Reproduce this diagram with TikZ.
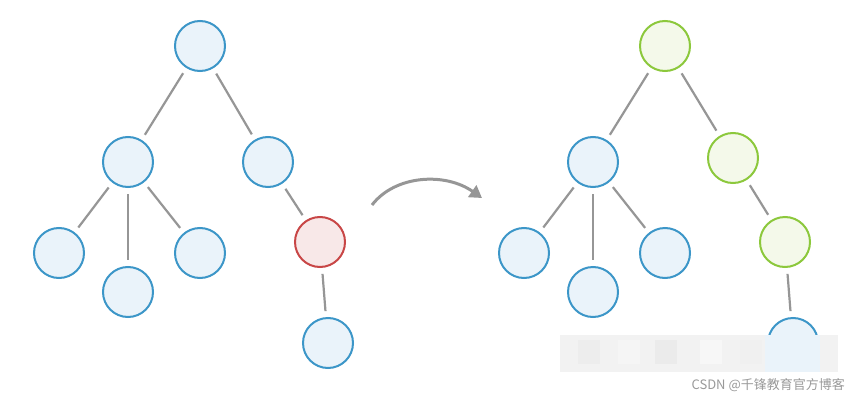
\documentclass[tikz,border=0pt]{standalone}
\usepackage{fontspec}
\newfontfamily\cjk{Noto Sans CJK SC}
\usetikzlibrary{arrows.meta}
\definecolor{bblue}{RGB}{60,150,200}
\definecolor{fblue}{RGB}{234,243,250}
\definecolor{bred}{RGB}{200,70,70}
\definecolor{fred}{RGB}{248,232,232}
\definecolor{bgreen}{RGB}{140,200,60}
\definecolor{fgreen}{RGB}{244,249,234}
\definecolor{edgec}{RGB}{150,150,150}
\tikzset{
 nd/.style={circle,minimum size=50pt,inner sep=0,line width=2pt},
 bn/.style={nd,draw=bblue,fill=fblue},
 rn/.style={nd,draw=bred,fill=fred},
 gn/.style={nd,draw=bgreen,fill=fgreen},
 ed/.style={draw=edgec,line width=2.2pt,shorten <=6pt,shorten >=6pt}
}
\begin{document}
\begin{tikzpicture}[x=1pt,y=-1pt]
\useasboundingbox (0,0) rectangle (859,404);
% left tree
\node[bn] (a) at (200,46) {};
\node[bn] (b) at (128,162) {};
\node[bn] (c) at (268,162) {};
\node[bn] (d) at (59,253) {};
\node[bn] (e) at (128,292) {};
\node[bn] (f) at (200,253) {};
\node[rn] (g) at (320,242) {};
\node[bn] (h) at (328,343) {};
\foreach \u/\v in {a/b,a/c,b/d,b/e,b/f,c/g,g/h} \draw[ed] (\u) -- (\v);
% right tree
\node[gn] (A) at (665,46) {};
\node[bn] (B) at (593,162) {};
\node[gn] (C) at (733,158) {};
\node[bn] (D) at (524,253) {};
\node[bn] (E) at (593,292) {};
\node[bn] (F) at (665,253) {};
\node[gn] (G) at (785,242) {};
\node[bn] (H) at (793,343) {};
\foreach \u/\v in {A/B,A/C,B/D,B/E,B/F,C/G,G/H} \draw[ed] (\u) -- (\v);
% arrow
\coordinate (s) at (372,205);
\coordinate (t) at (482,198);
\draw[draw=edgec,line width=3pt,-{Triangle[length=12pt,width=14pt]}] (s) .. controls (395,175) and (445,172) .. (t);
% watermark mosaic
\fill[gray!10] (560,335) rectangle (838,372);
\foreach \x/\c in {578/14,618/8,655/16,700/6,740/12,790/18} \fill[gray!\c] (\x,340) rectangle (\x+22,364);
\fill[fblue] (765,335) rectangle (820,372);
\node[anchor=east,text=gray!80,font=\cjk\fontsize{13pt}{15pt}\selectfont,inner sep=0] (wm) at (845,385) {CSDN @千锋教育官方博客};
\end{tikzpicture}
\end{document}
